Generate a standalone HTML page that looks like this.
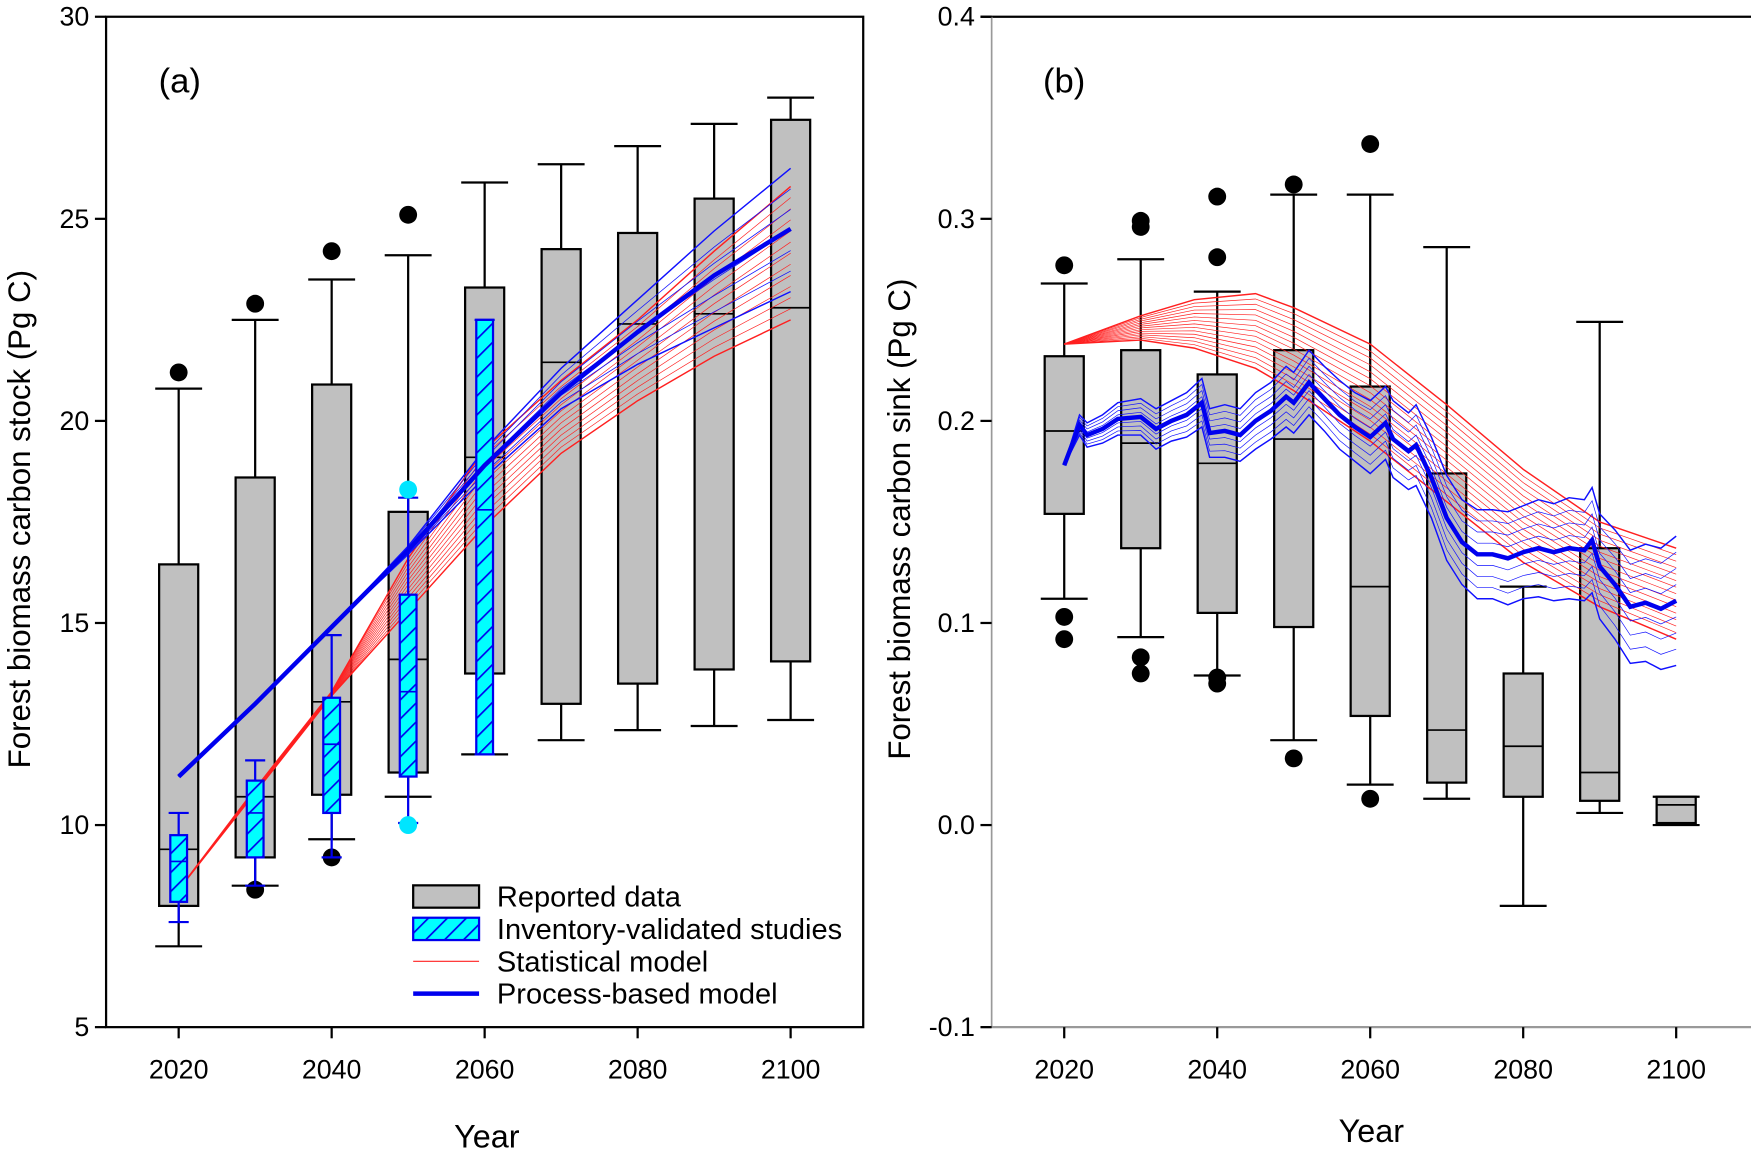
<!DOCTYPE html>
<html><head><meta charset="utf-8"><style>
html,body{margin:0;padding:0;background:#fff;}
svg{display:block;font-family:"Liberation Sans",Arial,sans-serif;}
</style></head><body>
<svg id="chart" width="1751" height="1160" viewBox="0 0 1568 1039" preserveAspectRatio="none" xmlns="http://www.w3.org/2000/svg">
<defs>
<pattern id="hatch" patternUnits="userSpaceOnUse" width="12" height="12" patternTransform="rotate(45)">
<rect width="12" height="12" fill="#00ffff"/><line x1="0" y1="0" x2="0" y2="12" stroke="#0000ee" stroke-width="3"/>
</pattern>
</defs>
<g id="root"></g>
</svg>
<script>
// ---- Panel (a) data ----
const yearsA = [2020,2030,2040,2050,2060,2070,2080,2090,2100];
const boxLowA = [7.0,8.5,9.65,10.7,11.75,12.1,12.35,12.45,12.6];
const boxQ1A  = [8.0,9.2,10.75,11.3,13.75,13.0,13.5,13.85,14.05];
const boxMedA = [9.4,10.7,13.05,14.1,19.1,21.45,22.4,22.65,22.8];
const boxQ3A  = [16.45,18.6,20.9,17.75,23.3,24.25,24.65,25.5,27.45];
const boxHighA= [20.8,22.5,23.5,24.1,25.9,26.35,26.8,27.35,28.0];
const outYearsA = [2020,2030,2030,2040,2040,2050];
const outValsA  = [21.2,22.9,8.4,24.2,9.2,25.1];
const invYears = [2020,2030,2040,2050,2060];
const invLow  = [7.6,8.5,9.2,10.05,11.75];
const invQ1   = [8.1,9.2,10.3,11.2,11.75];
const invMed  = [9.1,10.3,12.0,13.3,17.8];
const invQ3   = [9.75,11.1,13.15,15.7,22.5];
const invHigh = [10.3,11.6,14.7,18.1,22.5];
const invOutYears = [2050,2050];
const invOutVals = [18.3,10.0];
const procA = [11.2,13.0,14.9,16.8,18.9,20.7,22.2,23.6,24.75];
const procUpA = [11.2,13.0,14.9,16.9,19.3,21.3,23.0,24.7,26.25];
const procLoA = [11.2,13.0,14.9,16.7,18.6,20.3,21.4,22.3,23.2];
const statUpA = [8.4,10.9,13.3,16.6,19.3,21.0,22.5,24.2,25.8];
const statLoA = [8.4,10.8,13.2,15.3,17.4,19.2,20.5,21.6,22.5];
const yTicksA = [5,10,15,20,25,30];
const xTicks = [2020,2040,2060,2080,2100];
// ---- Panel (b) data ----
const boxLowB = [0.112,0.093,0.074,0.042,0.020,0.013,-0.040,0.006,0.0];
const boxQ1B  = [0.154,0.137,0.105,0.098,0.054,0.021,0.014,0.012,0.001];
const boxMedB = [0.195,0.189,0.179,0.191,0.118,0.047,0.039,0.026,0.010];
const boxQ3B  = [0.232,0.235,0.223,0.235,0.217,0.174,0.075,0.137,0.014];
const boxHighB= [0.268,0.280,0.264,0.312,0.312,0.286,0.118,0.249,0.014];
const outYearsB = [2020,2020,2020,2030,2030,2030,2030,2040,2040,2040,2040,2050,2050,2060,2060];
const outValsB  = [0.277,0.103,0.092,0.299,0.296,0.083,0.075,0.311,0.281,0.073,0.070,0.317,0.033,0.337,0.013];
const procYearsB = [2020,2022,2023,2025,2027,2030,2032,2034,2036,2038,2039,2041,2043,2045,2047,2049,2050,2052,2054,2056,2058,2060,2062,2063,2065,2066,2068,2070,2072,2074,2076,2078,2080,2082,2084,2086,2088,2089,2090,2092,2094,2096,2098,2100];
const procB = [0.178,0.198,0.193,0.196,0.201,0.202,0.196,0.200,0.203,0.209,0.194,0.195,0.193,0.200,0.205,0.212,0.209,0.219,0.211,0.203,0.197,0.192,0.199,0.191,0.185,0.188,0.172,0.152,0.140,0.134,0.134,0.132,0.135,0.137,0.135,0.137,0.136,0.141,0.128,0.119,0.108,0.110,0.107,0.111];
const procSpreadB = [0.0,0.005,0.006,0.007,0.008,0.009,0.010,0.010,0.011,0.012,0.012,0.013,0.013,0.014,0.014,0.015,0.015,0.016,0.016,0.017,0.017,0.018,0.018,0.019,0.019,0.020,0.020,0.021,0.021,0.022,0.022,0.023,0.023,0.024,0.024,0.025,0.025,0.026,0.026,0.027,0.028,0.029,0.030,0.032];
const statYearsB = [2020,2030,2037,2045,2050,2060,2070,2080,2090,2100];
const statUpB = [0.238,0.252,0.260,0.263,0.256,0.238,0.208,0.176,0.150,0.137];
const statLoB = [0.238,0.240,0.236,0.226,0.215,0.190,0.160,0.130,0.108,0.092];
const yTicksB = [-0.1,0.0,0.1,0.2,0.3,0.4];
const yTickLabelsB = ["-0.1","0.0","0.1","0.2","0.3","0.4"];

const NS="http://www.w3.org/2000/svg";
const root=document.getElementById('root');
function mk(tag,attrs,parent){const e=document.createElementNS(NS,tag);for(const k in attrs)e.setAttribute(k,attrs[k]);(parent||root).appendChild(e);return e;}
const yTop=15,yBot=920;
const xA=y=>160+(y-2020)*548/80, yA=v=>yBot-(v-5)*(yBot-yTop)/25;
const xB=y=>953+(y-2020)*548/80, yB=v=>yBot-(v+0.1)*(yBot-yTop)/0.5;
function pathD(xs,ys){return xs.map((x,i)=>(i?'L':'M')+x.toFixed(1)+','+ys[i].toFixed(1)).join('');}

function axes(g,x0,x1,yf,xf,ticks,labels,leftGrey){
  if(leftGrey){
    let t=mk('line',{x1:878,y1:yTop,x2:1568,y2:yTop,stroke:'#000','stroke-width':2},g);
    
    
    let l=mk('line',{x1:x0,y1:yTop,x2:x0,y2:yBot,stroke:'#999','stroke-width':1.5},g);
    
    
    let b=mk('line',{x1:878,y1:yBot,x2:1568,y2:yBot,stroke:'#999','stroke-width':2},g);
    
    
  } else {
    let r=mk('rect',{x:x0,y:yTop,width:x1-x0,height:yBot-yTop,fill:'none',stroke:'#000','stroke-width':2},g);
    
    
  }
  ticks.forEach((v,i)=>{
    const y=yf(v);
    mk('line',{x1:x0-10,y1:y,x2:x0,y2:y,stroke:'#000','stroke-width':2},g);
    const t=mk('text',{x:x0-15,y:y+8,'text-anchor':'end','font-size':24},g);
    t.textContent=labels[i];
    
    
  });
  xTicks.forEach(yr=>{
    const x=xf(yr);
    mk('line',{x1:x,y1:yBot,x2:x,y2:yBot+10,stroke:'#000','stroke-width':2},g);
    const t=mk('text',{x:x,y:yBot+46,'text-anchor':'middle','font-size':24},g);
    t.textContent=yr;
    
    
  });
}
function boxes(g,years,lo,q1,md,q3,hi,xf,yf,w,fill,stroke,name){
  years.forEach((yr,i)=>{
    const x=xf(yr);
    const bg=mk('g',{},g);
    
    
    mk('line',{x1:x,y1:yf(hi[i]),x2:x,y2:yf(q3[i]),stroke:stroke,'stroke-width':2},bg);
    mk('line',{x1:x,y1:yf(q1[i]),x2:x,y2:yf(lo[i]),stroke:stroke,'stroke-width':2},bg);
    mk('line',{x1:x-w*0.6,y1:yf(hi[i]),x2:x+w*0.6,y2:yf(hi[i]),stroke:stroke,'stroke-width':2},bg);
    mk('line',{x1:x-w*0.6,y1:yf(lo[i]),x2:x+w*0.6,y2:yf(lo[i]),stroke:stroke,'stroke-width':2},bg);
    mk('rect',{x:x-w/2,y:yf(q3[i]),width:w,height:Math.max(1,yf(q1[i])-yf(q3[i])),fill:fill,stroke:stroke,'stroke-width':2},bg);
    mk('line',{x1:x-w/2,y1:yf(md[i]),x2:x+w/2,y2:yf(md[i]),stroke:stroke,'stroke-width':1.5},bg);
  });
}
function dots(g,ys,vs,xf,yf,color,name){
  ys.forEach((yr,i)=>{
    const c=mk('circle',{cx:xf(yr),cy:yf(vs[i]),r:8,fill:color},g);
    
    
  });
}
function band(g,xs,up,lo,xf,yf,color,n,w,name){
  for(let k=0;k<=n;k++){
    const f=k/n;
    const p=mk('path',{d:pathD(xs.map(xf),xs.map((_,i)=>yf(lo[i]+(up[i]-lo[i])*f))),fill:'none',stroke:color,'stroke-width':(k==0||k==n)?1.3:w},g);
    
    
  }
}
// Panel a
const ga=mk('g',{});


axes(ga,95,773,yA,xA,yTicksA,yTicksA.map(String),false);
boxes(ga,yearsA,boxLowA,boxQ1A,boxMedA,boxQ3A,boxHighA,xA,yA,35,'#c0c0c0','#000','reported-box');
dots(ga,outYearsA,outValsA,xA,yA,'#000','reported-outlier');
band(ga,yearsA,statUpA,statLoA,xA,yA,'#ff2020',12,0.6,'statistical-model-line');
band(ga,yearsA,procUpA,procLoA,xA,yA,'#1010ff',6,0.7,'process-model-range');
boxes(ga,invYears,invLow,invQ1,invMed,invQ3,invHigh,xA,yA,15,'url(#hatch)','#0000ee','inventory-box');
dots(ga,invOutYears,invOutVals,xA,yA,'#00e5ff','inventory-outlier');
let pa=mk('path',{d:pathD(yearsA.map(xA),procA.map(yA)),fill:'none',stroke:'#0000ee','stroke-width':4},ga);


// Panel b
const gb=mk('g',{});


axes(gb,888,1568,yB,xB,yTicksB,yTickLabelsB,true);
boxes(gb,yearsA,boxLowB,boxQ1B,boxMedB,boxQ3B,boxHighB,xB,yB,35,'#c0c0c0','#000','reported-box');
dots(gb,outYearsB,outValsB,xB,yB,'#000','reported-outlier');
band(gb,statYearsB,statUpB,statLoB,xB,yB,'#ff2020',14,0.6,'statistical-model-line');
band(gb,procYearsB,procB.map((v,i)=>v+procSpreadB[i]),procB.map((v,i)=>v-procSpreadB[i]),xB,yB,'#1010ff',8,0.6,'process-model-range');
let pb=mk('path',{d:pathD(procYearsB.map(xB),procB.map(yB)),fill:'none',stroke:'#0000ee','stroke-width':4},gb);


</script>
<svg style="position:absolute;left:0;top:0" width="1751" height="1160" viewBox="0 0 1568 1039" preserveAspectRatio="none" xmlns="http://www.w3.org/2000/svg" font-family="Liberation Sans, Arial, sans-serif">
<text x="142" y="83" font-size="31">(a)</text>
<text x="934" y="83" font-size="31">(b)</text>
<text transform="translate(27,465) rotate(-90)" text-anchor="middle" font-size="28">Forest biomass carbon stock (Pg C)</text>
<text transform="translate(815,465) rotate(-90)" text-anchor="middle" font-size="28">Forest biomass carbon sink (Pg C)</text>
<text x="436" y="1028" text-anchor="middle" font-size="29">Year</text>
<text x="1228" y="1023" text-anchor="middle" font-size="29">Year</text>
<g font-size="26">
<rect x="370" y="793" width="59" height="20" fill="#c0c0c0" stroke="#000" stroke-width="2"/>
<text x="445" y="812">Reported data</text>
<rect x="370" y="822" width="59" height="20" fill="url(#hatch)" stroke="#0000ee" stroke-width="2"/>
<text x="445" y="841">Inventory-validated studies</text>
<line x1="370" y1="861" x2="429" y2="861" stroke="#ff2020" stroke-width="1"/>
<text x="445" y="870">Statistical model</text>
<line x1="370" y1="890" x2="429" y2="890" stroke="#0000ee" stroke-width="4"/>
<text x="445" y="899">Process-based model</text>
</g>
</svg>
</body></html>
